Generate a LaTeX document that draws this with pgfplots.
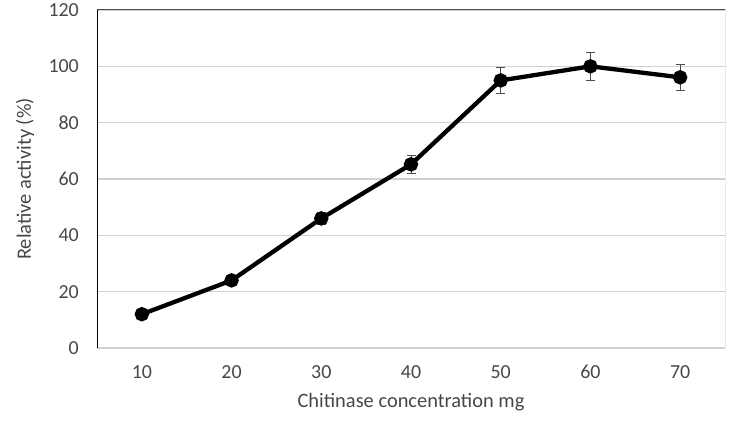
\documentclass[border=0pt]{standalone}
\usepackage{pgfplots}
\pgfplotsset{compat=1.18}
\usepackage{fontspec}
\setmainfont{Carlito}

\begin{document}
\begin{tikzpicture}[x=1bp,y=1bp]
\path[use as bounding box] (0,0) rectangle (738,420);
\begin{axis}[
    at={(97bp,72bp)},
    anchor=south west,
    scale only axis,
    width=628bp,
    height=338bp,
    xmin=0.5, xmax=7.5,
    ymin=0, ymax=120,
    xtick={1,...,7},
    xticklabels={10,20,30,40,50,60,70},
    ytick={0,20,...,120},
    ymajorgrids,
    grid style={draw=black!18, line width=1.3bp},
    major tick length=0pt,
    axis line style={draw=none},
    tick label style={font=\fontsize{20}{24}\selectfont, text=black!72},
    /pgf/number format/assume math mode=true,
    xticklabel style={anchor=base, inner sep=0pt, yshift=-30bp},
    yticklabel style={anchor=east, inner sep=0pt, xshift=-18bp},
    xlabel={Chitinase concentration mg},
    ylabel={Relative activity (\%)},
    label style={font=\fontsize{20.5}{24}\selectfont, text=black!72},
    xlabel style={at={(rel axis cs:0.5,-0.1598)}, anchor=center},
    ylabel style={at={(rel axis cs:-0.1146,0.5)}, anchor=center},
]
\draw[black!70, line width=1bp] (rel axis cs:0,1) -- (rel axis cs:1,1) -- (rel axis cs:1,0);
\draw[black, line width=1.2bp] (rel axis cs:0,0) -- (rel axis cs:0,1);
\addplot[black, line width=4.3bp, mark=*, mark size=5bp,
    error bars/.cd, y dir=both, y explicit,
    error bar style={draw=black!70, line width=1bp},
    error mark options={rotate=90, mark size=4.5bp, draw=black!70, line width=1bp}]
  coordinates {
  (1,12) +- (0,0.6)
  (2,24) +- (0,1.2)
  (3,46) +- (0,2)
  (4,65.2) +- (0,3.1)
  (5,95) +- (0,4.7)
  (6,100) +- (0,4.9)
  (7,96.1) +- (0,4.7)
};
\end{axis}
\end{tikzpicture}
\end{document}
